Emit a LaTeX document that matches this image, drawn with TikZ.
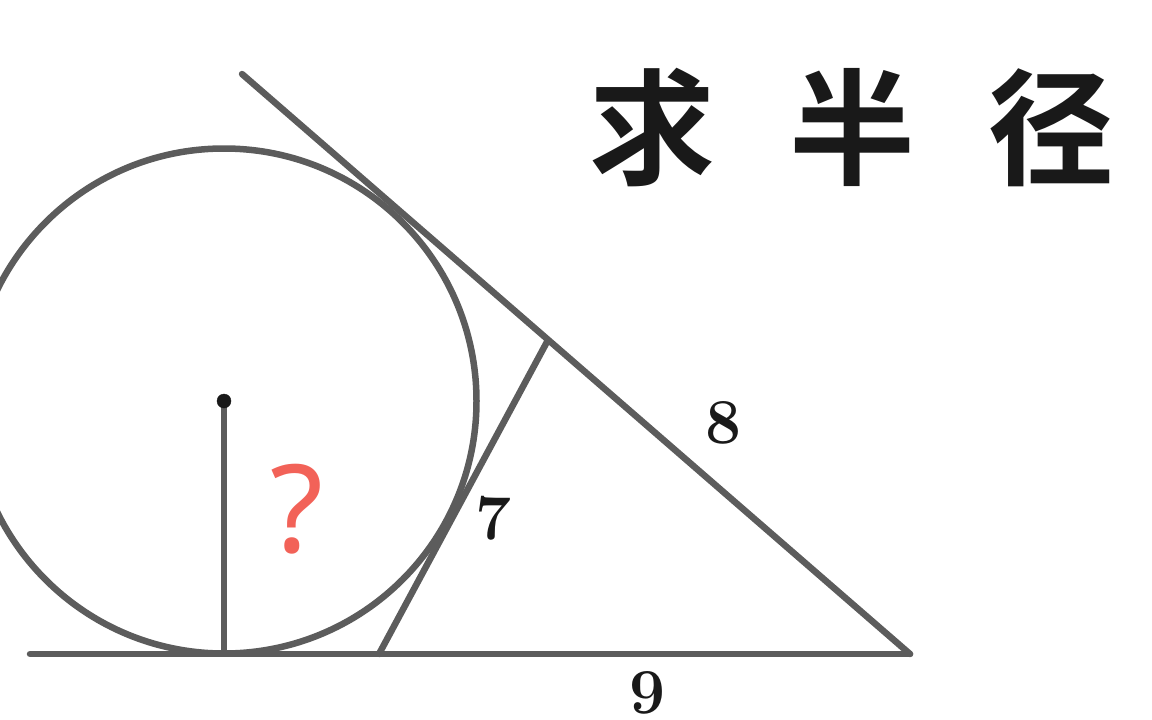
\documentclass[tikz,border=0pt]{standalone}
\usepackage{fontspec}
\newfontfamily\cjk{Noto Sans CJK SC}[BoldFont={Noto Sans CJK SC Bold}]
\newfontfamily\qfont{Noto Sans}
\definecolor{lineGray}{RGB}{92,92,92}
\definecolor{qRed}{RGB}{242,98,88}
\tikzset{
  seg/.style={color=lineGray, line width=6.5pt, line cap=round},
  sidelabel/.style={font=\fontsize{64}{64}\selectfont\bfseries, text=black!90, inner sep=0pt}
}
\begin{document}
\begin{tikzpicture}[x=1pt, y=-1pt]
\useasboundingbox (0,0) rectangle (1152,720);
\clip (0,0) rectangle (1152,720);
\coordinate (O) at (224,401);
\coordinate (T) at (224,654);
\coordinate (L) at (30,654);
\coordinate (C) at (910,654);
\coordinate (A) at (379,654);
\coordinate (B) at (548,340);
\coordinate (E) at (242,74);
\draw[seg] (O) circle (252.5pt);
\draw[seg] (L) -- (C);
\draw[seg] (E) -- (C);
\draw[seg] (A) -- (B);
\draw[seg, line cap=butt] (O) -- (T);
\draw[color=black!90, fill] (O) circle (7pt);
\node[sidelabel] (lab8) at (724,423) {8};
\node[sidelabel] (lab7) at (494,518) {7};
\node[sidelabel] (lab9) at (648,693) {9};
\node[font=\qfont\fontsize{122}{122}\selectfont, text=qRed, inner sep=0pt] (q) at (297,509) {?};
\node[font=\cjk\bfseries\fontsize{126}{126}\selectfont, text=black!90, inner sep=0pt] (title) at (852,128) {求\hspace{0.58em}半\hspace{0.58em}径};
\end{tikzpicture}
\end{document}
